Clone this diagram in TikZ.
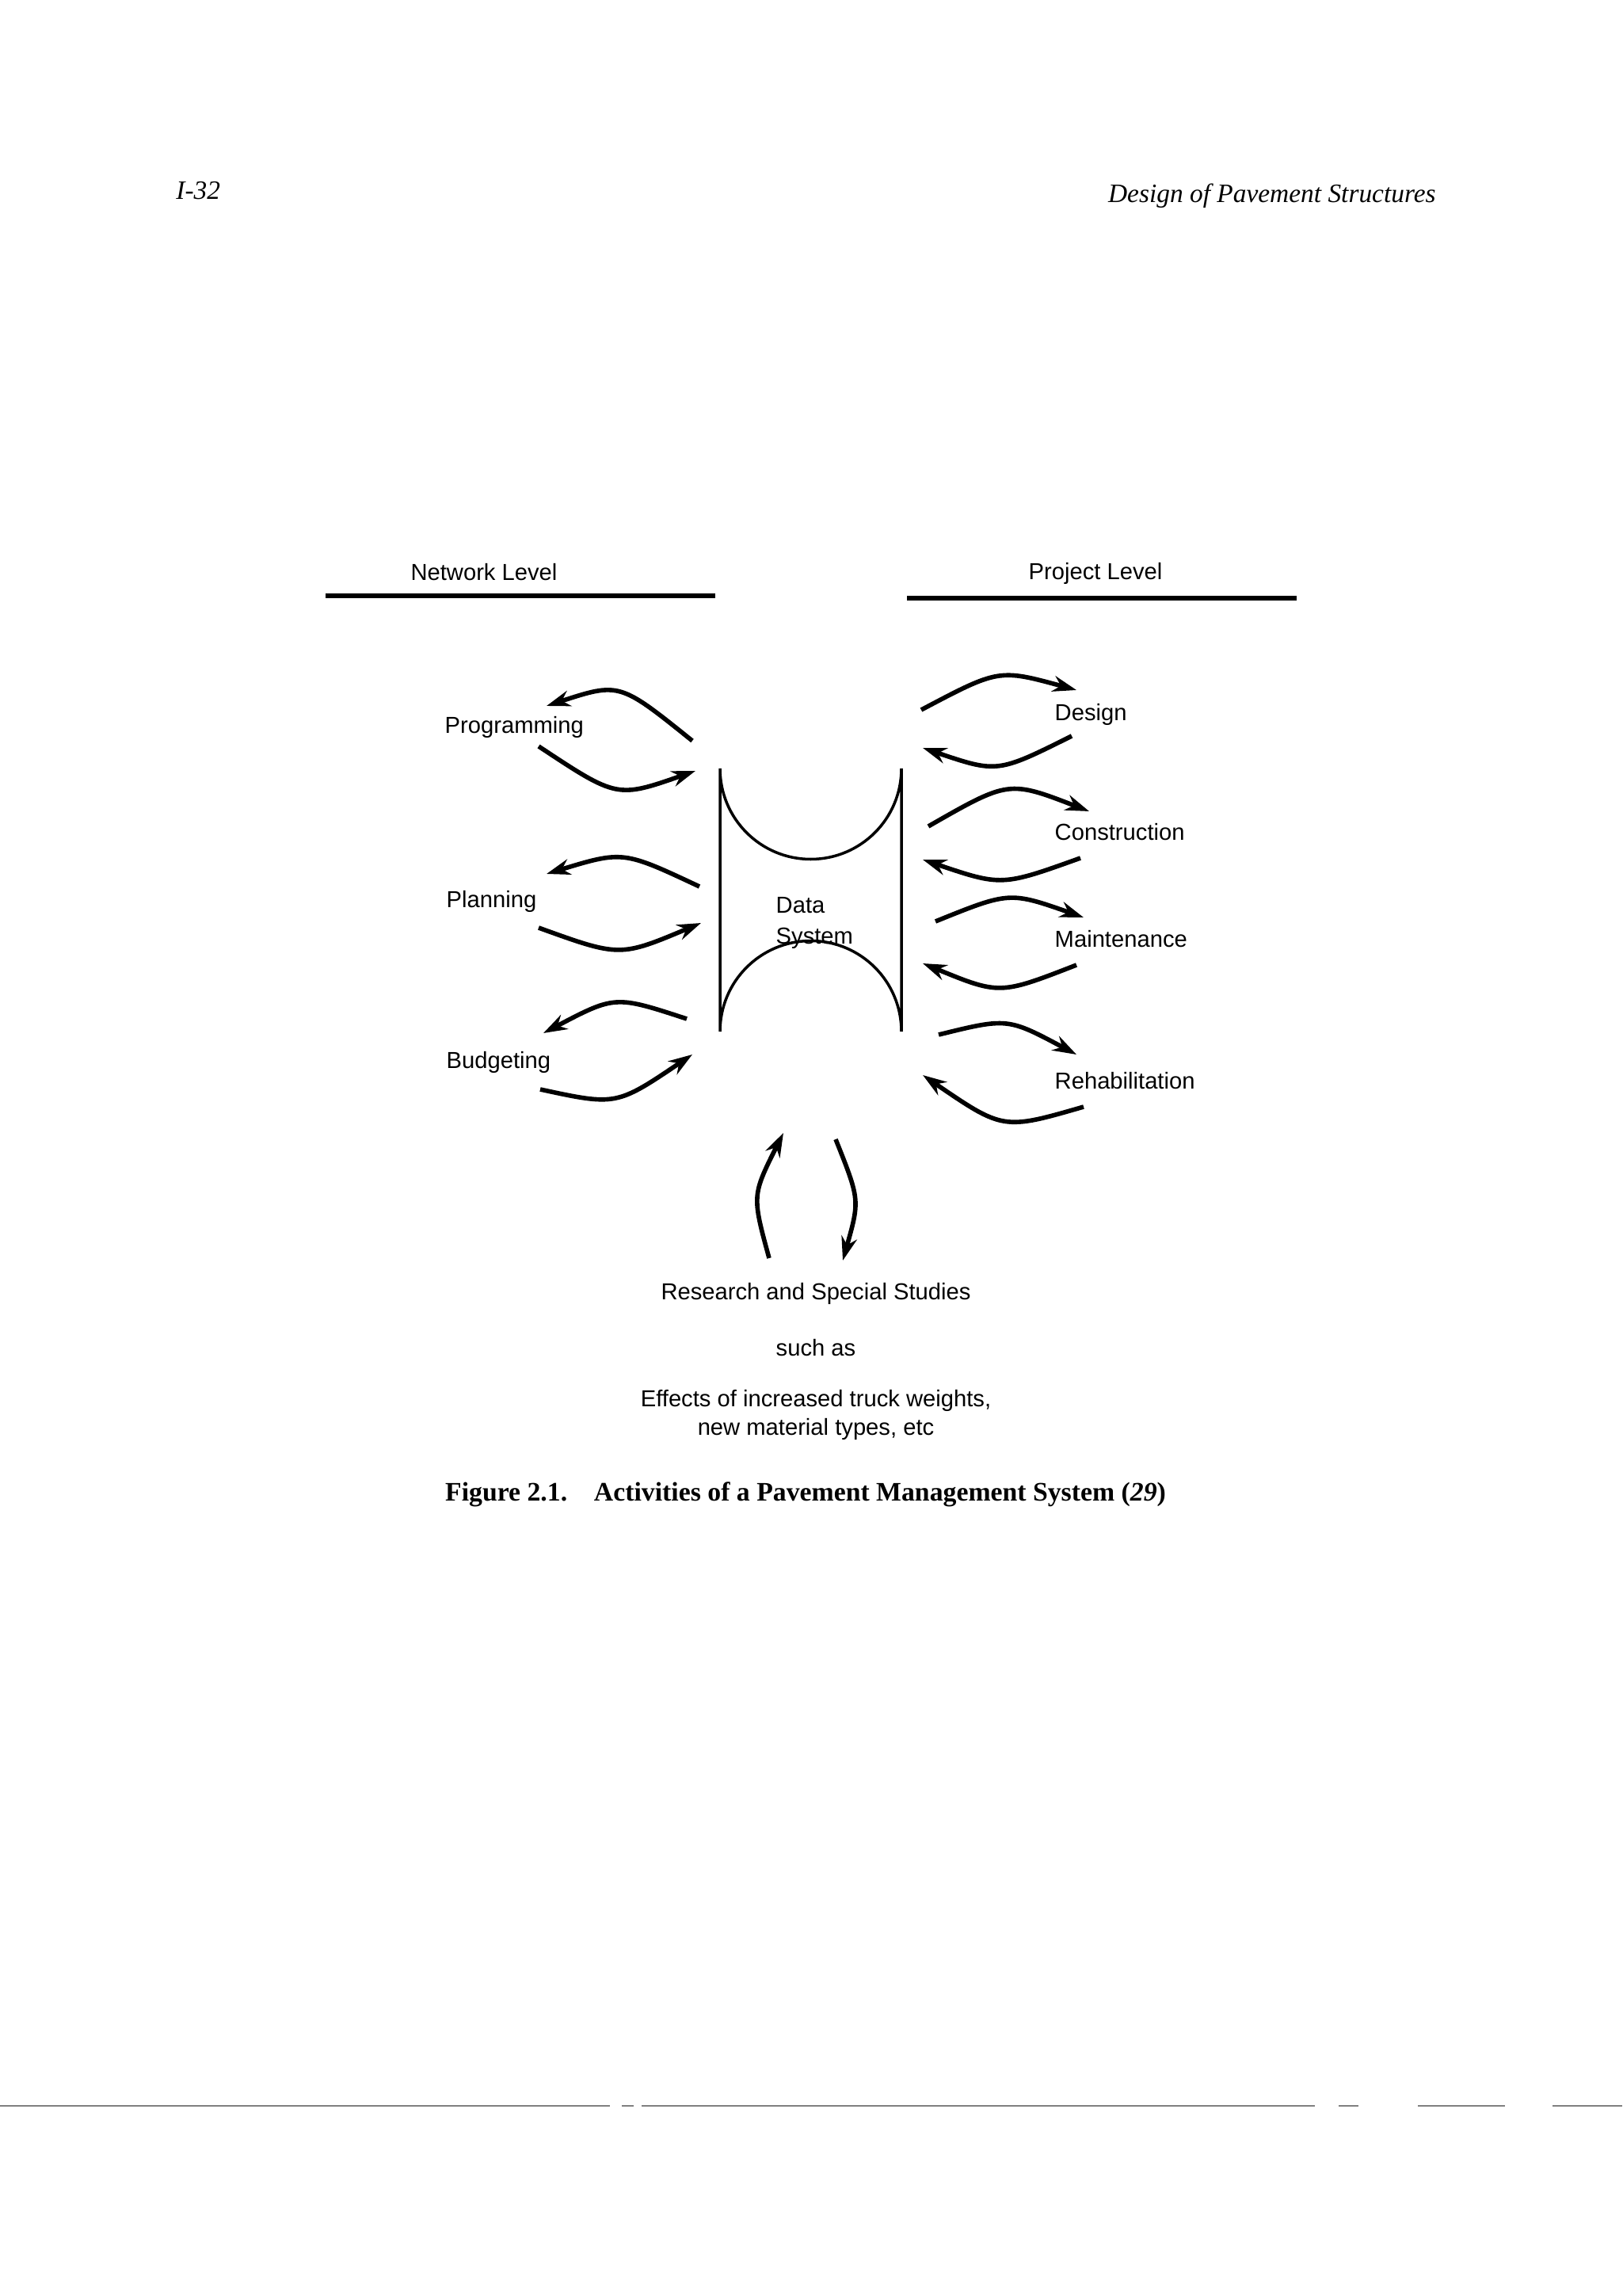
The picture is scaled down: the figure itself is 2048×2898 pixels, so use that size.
\documentclass[tikz,border=0pt]{standalone}
\usepackage{fontspec}
\setmainfont{Liberation Serif}
\newfontfamily\lab{Liberation Sans}
\usetikzlibrary{arrows.meta}
\tikzset{arr/.style={line width=1.6pt,-{Stealth[length=0.3cm,width=0.2cm]}},
lbl/.style={font=\lab\fontsize{8.3}{10}\selectfont,inner sep=0pt}}
\newcommand\harc[5]{\draw[arr] (#1,#2) .. controls ({(#1+#3)/2},{(#5-(#2+#4)/8)/0.75}) .. (#3,#4);}
\newcommand\varc[5]{\draw[arr] (#1,#2) .. controls ({(#5-(#1+#3)/8)/0.75},{(#2+#4)/2}) .. (#3,#4);}
\begin{document}
\begin{tikzpicture}[x=0.01cm,y=-0.01cm]
\useasboundingbox (0,0) rectangle (2048,2898);
\node[font=\itshape\fontsize{9.5}{11}\selectfont,anchor=west] (pg) at (210,241) {I-32};
\node[font=\itshape\fontsize{9.5}{11}\selectfont,anchor=east] (hd) at (1825,247) {Design of Pavement Structures};
\node[lbl] (nl) at (611,722) {Network Level};
\node[lbl] (pl) at (1383,724) {Project Level};
\draw[line width=1.6pt] (411,752) -- (903,752);
\draw[line width=1.6pt] (1145,755) -- (1637,755);
\draw[line width=1pt] (909,970) arc (180:0:114.5) -- (1138,1302) arc (0:-180:114.5) -- cycle;
\node[lbl,align=left,anchor=west] (ds) at (979,1165) {Data\\[1pt]System};
\node[lbl,anchor=west] (p1) at (561,918) {Programming};
\node[lbl,anchor=west] (p2) at (563,1138) {Planning};
\node[lbl,anchor=west] (p3) at (563,1341) {Budgeting};
\harc{874}{935}{690}{891}{874}
\harc{680}{942}{878}{973}{995}
\harc{883}{1119}{690}{1103}{1083}
\harc{680}{1171}{885}{1165}{1198}
\harc{867}{1286}{686}{1304}{1266}
\harc{682}{1375}{874}{1331}{1385}
\node[lbl,anchor=west] (r1) at (1331,902) {Design};
\node[lbl,anchor=west] (r2) at (1331,1050) {Construction};
\node[lbl,anchor=west] (r3) at (1331,1185) {Maintenance};
\node[lbl,anchor=west] (r4) at (1331,1364) {Rehabilitation};
\harc{1163}{896}{1359}{871}{854}
\harc{1353}{929}{1165}{944}{966}
\harc{1172}{1043}{1375}{1024}{997}
\harc{1364}{1083}{1165}{1085}{1110}
\harc{1181}{1163}{1368}{1158}{1134}
\harc{1359}{1218}{1165}{1216}{1246}
\harc{1185}{1306}{1359}{1331}{1293}
\harc{1368}{1397}{1165}{1357}{1414}
\varc{971}{1588}{989}{1430}{957}
\varc{1055}{1438}{1064}{1591}{1079}
\node[lbl] (rs) at (1030,1633) {Research and Special Studies};
\node[lbl] (sa) at (1030,1701) {such as};
\node[lbl,align=center] (ef) at (1030,1786) {Effects of increased truck weights,\\new material types, etc};
\node[font=\bfseries\fontsize{9.6}{11}\selectfont] (cap) at (1017,1886) {Figure 2.1.\quad Activities of a Pavement Management System (\textit{29})};
\draw[line width=0.8pt,gray] (0,2658) -- (770,2658) (785,2658) -- (800,2658) (810,2658) -- (1660,2658) (1690,2658) -- (1715,2658) (1790,2658) -- (1900,2658) (1960,2658) -- (2048,2658);
\end{tikzpicture}
\end{document}
